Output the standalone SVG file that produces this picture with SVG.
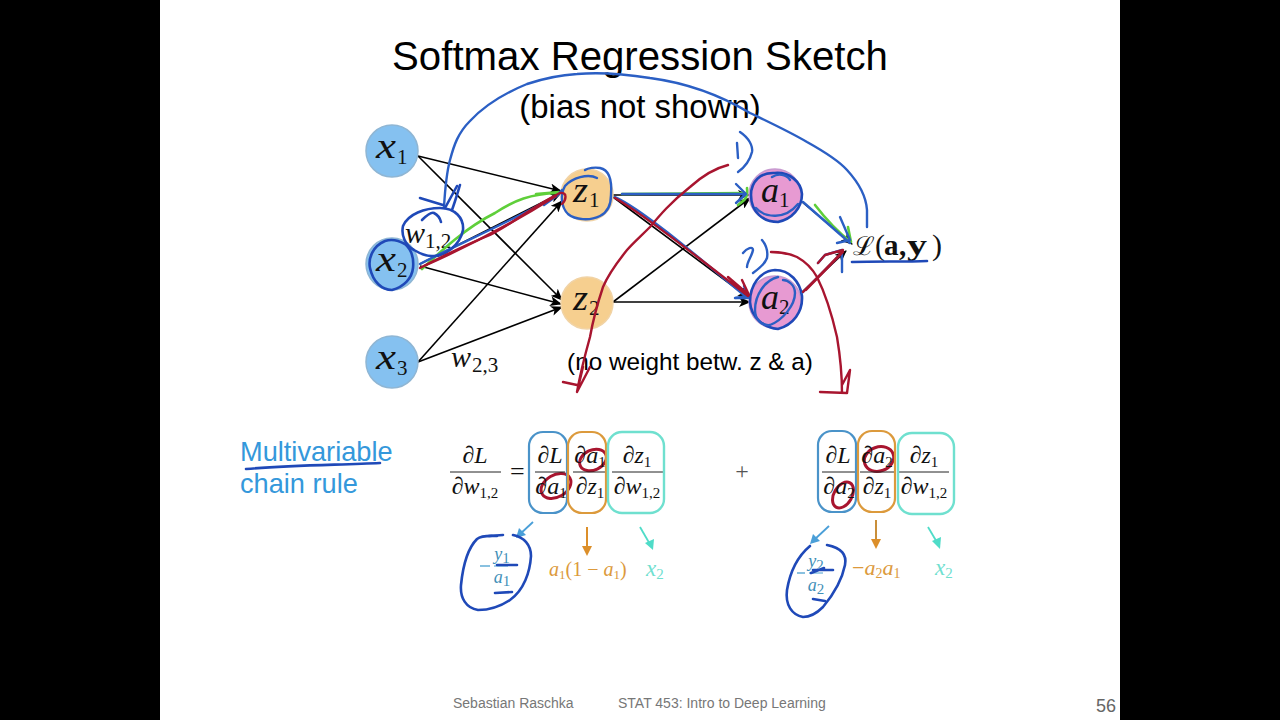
<svg xmlns="http://www.w3.org/2000/svg" width="1280" height="720" viewBox="0 0 1280 720">
<style>
.s{font-family:"Liberation Sans",Arial,sans-serif;fill:#000}
.m{font-family:"Liberation Serif","Times New Roman",serif;fill:#111}
.i{font-style:italic}
.b{font-weight:bold}
.n{font-size:36px;font-style:italic}
.sub{font-size:21px}
.f{font-size:24px;text-anchor:middle;font-style:italic}
.d{font-size:15px;font-style:normal}
.fl{stroke:#222;stroke-width:1;fill:none}
.w{stroke:#000;stroke-width:1.6;fill:none;marker-end:url(#ah)}
.blue{stroke:#2b5fc4;stroke-width:2.4;fill:none;stroke-linecap:round;stroke-linejoin:round}
.dblue{stroke:#1f49b8;stroke-width:2.6;fill:none;stroke-linecap:round;stroke-linejoin:round}
.red{stroke:#a8152f;stroke-width:2.4;fill:none;stroke-linecap:round;stroke-linejoin:round}
.rc{stroke:#a8152f;stroke-width:3;fill:none}
.green{stroke:#5fcf3a;stroke-width:2.6;fill:none;stroke-linecap:round;stroke-linejoin:round}
.cx{fill:#85c1f0;stroke:#8fb6d4;stroke-width:1.5}
.cz{fill:#f6cf8f;stroke:#f1d3a5;stroke-width:1.5}
.ca{fill:#e79ad2;stroke:#c79ad0;stroke-width:1.5}
.bb{fill:none;stroke:#4a93c9;stroke-width:2.2}
.bo{fill:none;stroke:#dc9a3c;stroke-width:2.2}
.bt{fill:none;stroke:#6fe0cf;stroke-width:2.4}
.ty{fill:#3f8fb8;font-size:18px;text-anchor:middle;font-style:italic}
</style>
<defs>
<marker id="ah" markerWidth="12" markerHeight="10" refX="11" refY="5" orient="auto" markerUnits="userSpaceOnUse"><path d="M0 0L12 5L0 10L3 5Z" fill="#000"/></marker>
</defs>
<rect width="1280" height="720" fill="#000"/>
<rect x="160" width="960" height="720" fill="#fff"/>
<text class="s" x="640" y="70" font-size="40.2" text-anchor="middle">Softmax Regression Sketch</text>
<text class="s" x="640" y="118" font-size="32.9" text-anchor="middle">(bias not shown)</text>
<text class="s" x="690" y="370" font-size="24.3" text-anchor="middle">(no weight betw. z &amp; a)</text>

<g id="connectors">
<path class="w" d="M418 156L561 191"/>
<path class="w" d="M418 156L562 300"/>
<path class="w" d="M420 264L561 193"/>
<path class="w" d="M420 266L561 304"/>
<path class="w" d="M418 362L562 201"/>
<path class="w" d="M418 362L562 307"/>
<path class="w" d="M613 195L749 195"/>
<path class="w" d="M613 197L749 298"/>
<path class="w" d="M613 302L750 198"/>
<path class="w" d="M613 302L750 302"/>
<path class="w" d="M801 201L852 244"/>
<path class="w" d="M801 293L846 251"/>
</g>

<g id="x1"><circle class="cx" cx="392" cy="151" r="26"/><text class="m n" x="376" y="158" textLength="20" lengthAdjust="spacingAndGlyphs">x</text><text class="m sub" x="397" y="164">1</text></g>
<g id="x2"><circle class="cx" cx="392" cy="264" r="26"/><text class="m n" x="376" y="271" textLength="20" lengthAdjust="spacingAndGlyphs">x</text><text class="m sub" x="397" y="277">2</text></g>
<g id="x3"><circle class="cx" cx="392" cy="362" r="26"/><text class="m n" x="376" y="369" textLength="20" lengthAdjust="spacingAndGlyphs">x</text><text class="m sub" x="397" y="375">3</text></g>
<g id="z1"><circle class="cz" cx="587" cy="195" r="26"/><text class="m n" x="573" y="202" textLength="15" lengthAdjust="spacingAndGlyphs">z</text><text class="m sub" x="589" y="207">1</text></g>
<g id="z2"><circle class="cz" cx="587" cy="303" r="26"/><text class="m n" x="573" y="310" textLength="15" lengthAdjust="spacingAndGlyphs">z</text><text class="m sub" x="589" y="315">2</text></g>
<g id="a1"><circle class="ca" cx="775" cy="195" r="26"/><text class="m n" x="761" y="202" textLength="18" lengthAdjust="spacingAndGlyphs">a</text><text class="m sub" x="779" y="207">1</text></g>
<g id="a2"><circle class="ca" cx="775" cy="302" r="26"/><text class="m n" x="761" y="309" textLength="18" lengthAdjust="spacingAndGlyphs">a</text><text class="m sub" x="779" y="314">2</text></g>

<g id="loss"><text x="853" y="255" font-size="26" font-family="'DejaVu Serif',serif" fill="#111">ℒ</text><text class="m" x="875" y="255" font-size="30">(</text><text class="m b" x="884" y="255" font-size="29">a</text><text class="m b" x="899" y="255" font-size="29">,</text><text class="m b" x="907" y="255" font-size="29" textLength="20" lengthAdjust="spacingAndGlyphs">y</text><text class="m" x="932" y="255" font-size="30">)</text></g>
<g id="w12"><text class="m i" x="405" y="243" font-size="30">w</text><text class="m" x="425" y="248" font-size="21">1,2</text></g>
<g id="w23"><text class="m i" x="451" y="367" font-size="30">w</text><text class="m" x="472" y="372" font-size="21">2,3</text></g>

<g id="annotations-green">
<path class="green" d="M422 269C440 252 465 228 495 213C515 200 530 194 558 193"/>
<path class="green" d="M536 194L559 192"/>
<path class="green" d="M622 194L745 193"/>
<path class="green" d="M738 205C745 200 748 198 747 188"/>
<path class="green" d="M815 205C825 218 835 230 851 242L848 227"/>
</g>
<g id="annotations-blue">
<path class="blue" d="M444 207C445 190 446 175 450 160C454 145 458 133 470 121C482 108 500 95 527 84C545 78 560 75 577 74C600 72 625 74 650 78C680 82 715 92 750 113C775 125 790 132 807 142C825 152 838 160 847 170C858 182 866 195 867 210L867 227"/>
<path class="blue" d="M420 264C450 248 510 222 556 196M544 205L558 195L562 190"/>
<path class="dblue" d="M420 198L443 205M460 185C457 195 455 202 452 210M457 186L445 208M422 220C428 214 432 212 434 213C438 215 440 218 441 222"/>
<path class="dblue" d="M414 250C405 245 401 235 403 226C408 214 425 208 440 208C455 208 464 218 463 230C460 245 445 257 432 256C425 256 419 253 414 250"/>
<path class="dblue" d="M385 241C373 246 368 258 370 268C373 282 382 290 392 290C404 287 412 278 413 268C414 258 412 250 405 244C398 240 391 239 385 241Z"/>
<path class="blue" d="M597 178C588 173 572 178 565 186C560 195 561 207 568 214C575 220 590 221 600 216C608 212 611 205 611 195C612 182 610 170 600 168C595 167 588 168 585 170"/>
<path class="blue" d="M615 197C640 208 690 250 745 296"/>
<path class="blue" d="M622 194L745 194M736 184L746 194L736 203"/>
<path class="blue" d="M735 298L748 296L744 286"/>
<path class="dblue" d="M775 173C760 172 751 182 751 195C751 212 763 222 778 222C792 219 802 208 802 194C801 182 790 172 775 173Z"/>
<path class="blue" d="M772 177C780 172 788 176 790 180M756 208C765 218 785 220 798 204"/>
<path class="dblue" d="M775 270C760 271 750 285 750 302C751 318 765 328 778 329C793 325 803 312 802 296C800 282 790 270 775 270Z"/>
<path class="blue" d="M778 277C765 280 755 295 755 310C755 320 762 326 770 325C783 320 795 305 795 293C795 285 788 280 783 280"/>
<path class="blue" d="M736 298L748 298"/>
<path class="blue" d="M803 202L850 243M840 217L850 240L837 243"/>
<path class="blue" d="M802 293L842 253M818 263L825 255L842 250L842 272"/>
<path class="blue" d="M740 132C749 138 753 146 752 152C750 160 745 167 738 172M737 143L738 158"/>
<path class="blue" d="M743 253C747 248 753 246 753 250C752 256 747 262 747 267M762 240C767 246 768 252 767 258C765 264 760 268 753 273"/>
<path class="dblue" d="M852 262C875 261 905 262 927 261"/>
</g>
<g id="annotations-red">
<path class="red" d="M420 268C445 255 465 245 490 235C515 222 535 205 560 193C568 192 566 200 562 204"/>
<path class="red" d="M424 266C460 250 510 225 556 196"/>
<path class="red" d="M615 198C640 212 695 255 748 296M728 277L749 295L742 280"/>
<path class="red" d="M728 165C712 169 700 178 690 187C670 203 660 215 650 227C640 237 633 243 627 250C615 265 608 275 603 287C597 305 593 320 590 337C585 355 580 375 577 392M563 382L577 385M590 367L577 392L583 367"/>
<path class="red" d="M771 252C780 252 790 254 797 257C806 262 812 268 817 277C826 295 832 315 837 337C840 355 842 375 842 393M820 392L847 393L850 370L842 385"/>
<path class="red" d="M803 292C815 280 830 265 843 251M818 263L825 255L843 250"/>
<path class="red" d="M806 290L843 252"/>
<ellipse class="rc" cx="556" cy="486" rx="16" ry="11" transform="rotate(-30 556 486)"/>
<ellipse class="rc" cx="593" cy="460" rx="14" ry="10" transform="rotate(-25 593 460)"/>
<ellipse class="rc" cx="843" cy="495" rx="9" ry="14" transform="rotate(30 843 495)"/>
<ellipse class="rc" cx="879" cy="459" rx="15" ry="12" transform="rotate(-20 879 459)"/>
</g>

<g id="chain-rule-label">
<text class="s" x="240" y="461" font-size="27.2" style="fill:#3498db">Multivariable</text>
<text class="s" x="240" y="493" font-size="27.2" style="fill:#3498db">chain rule</text>
<path class="dblue" d="M246 469C290 465 340 465 380 463"/>
</g>

<g id="eq-left">
<text class="m f" x="475" y="463">∂L</text><path class="fl" d="M450 472H501"/><text class="m f" x="475" y="494">∂w<tspan class="d" dy="4">1,2</tspan></text>
<text class="m" x="510" y="480" font-size="26">=</text>
<text class="m f" x="550" y="463">∂L</text><path class="fl" d="M535 472H565"/><text class="m f" x="551" y="494">∂a<tspan class="d" dy="4">1</tspan></text>
<text class="m f" x="590" y="463">∂a<tspan class="d" dy="4">1</tspan></text><path class="fl" d="M573 472H606"/><text class="m f" x="590" y="494">∂z<tspan class="d" dy="4">1</tspan></text>
<text class="m f" x="637" y="463">∂z<tspan class="d" dy="4">1</tspan></text><path class="fl" d="M612 472H663"/><text class="m f" x="637" y="494">∂w<tspan class="d" dy="4">1,2</tspan></text>
<rect class="bb" x="529" y="432" width="38" height="81" rx="14"/>
<rect class="bo" x="568" y="432" width="38" height="81" rx="14"/>
<rect class="bt" x="608" y="432" width="56" height="81" rx="14"/>
<path d="M533 522L519 535" stroke="#4a9fd8" stroke-width="1.8" fill="none"/><path d="M516 538L519 528L526 535Z" fill="#4a9fd8"/>
<path d="M587 527V549" stroke="#dc8f2a" stroke-width="2" fill="none"/><path d="M587 556L582 546H592Z" fill="#dc8f2a"/>
<path d="M640 527L651 546" stroke="#4fdcc8" stroke-width="1.8" fill="none"/><path d="M653 550L645 543L654 539Z" fill="#4fdcc8"/>
<path d="M480 566H490" stroke="#4aa0d0" stroke-width="1.3"/>
<text class="m ty" x="502" y="560">y<tspan class="d" font-size="12" dy="3">1</tspan></text>
<path d="M494 566H508" stroke="#4aa0d0" stroke-width="1"/>
<text class="m ty" x="502" y="583">a<tspan class="d" font-size="12" dy="3">1</tspan></text>
<text class="m" x="549" y="576" font-size="20" style="fill:#dc9a3c"><tspan class="i">a</tspan><tspan font-size="13" dy="3">1</tspan><tspan dy="-3">(1 − </tspan><tspan class="i">a</tspan><tspan font-size="13" dy="3">1</tspan><tspan dy="-3">)</tspan></text>
<text class="m i" x="646" y="576" font-size="23" style="fill:#6fe0cf">x<tspan font-size="15" font-style="normal" dy="3">2</tspan></text>
<path class="dblue" d="M513 535C524 537 531 545 531 556C530 572 524 590 510 600C498 608 488 610 478 610C466 608 460 598 461 585C463 565 468 548 477 539C482 535 490 536 497 536"/>
<path class="dblue" d="M497 565L517 565M495 593L512 592M489 536L503 535"/>
</g>

<g id="plus"><text class="m" x="742" y="479" font-size="24" text-anchor="middle" style="fill:#555">+</text></g>

<g id="eq-right">
<text class="m f" x="838" y="463">∂L</text><path class="fl" d="M822 472H855"/><text class="m f" x="839" y="494">∂a<tspan class="d" dy="4">2</tspan></text>
<text class="m f" x="877" y="463">∂a<tspan class="d" dy="4">2</tspan></text><path class="fl" d="M860 472H894"/><text class="m f" x="877" y="494">∂z<tspan class="d" dy="4">1</tspan></text>
<text class="m f" x="924" y="463">∂z<tspan class="d" dy="4">1</tspan></text><path class="fl" d="M898 472H949"/><text class="m f" x="924" y="494">∂w<tspan class="d" dy="4">1,2</tspan></text>
<rect class="bb" x="818" y="431" width="38" height="81" rx="14"/>
<rect class="bo" x="858" y="431" width="37" height="81" rx="14"/>
<rect class="bt" x="898" y="433" width="56" height="81" rx="14"/>
<path d="M829 526L814 540" stroke="#4a9fd8" stroke-width="1.8" fill="none"/><path d="M810 544L813 534L820 541Z" fill="#4a9fd8"/>
<path d="M876 520V543" stroke="#c98f3a" stroke-width="2" fill="none"/><path d="M876 549L871 539H881Z" fill="#dc8f2a"/>
<path d="M928 527L938 544" stroke="#4fdcc8" stroke-width="1.8" fill="none"/><path d="M940 549L932 541L941 537Z" fill="#4fdcc8"/>
<path d="M797 573H805" stroke="#4aa0d0" stroke-width="1.3"/>
<text class="m ty" x="816" y="567">y<tspan class="d" font-size="12" dy="3">2</tspan></text>
<path d="M809 573H823" stroke="#4aa0d0" stroke-width="1"/>
<text class="m ty" x="816" y="591">a<tspan class="d" font-size="12" dy="3">2</tspan></text>
<text class="m" x="852" y="575" font-size="22" style="fill:#dc9a3c">−<tspan class="i">a</tspan><tspan font-size="14" dy="3">2</tspan><tspan class="i" dy="-3">a</tspan><tspan font-size="14" dy="3">1</tspan></text>
<text class="m i" x="935" y="575" font-size="23" style="fill:#6fe0cf">x<tspan font-size="15" font-style="normal" dy="3">2</tspan></text>
<path class="dblue" d="M810 546C798 556 790 572 787 590C785 605 792 615 803 617C812 617 818 612 823 607C833 595 842 580 845 565C847 555 842 548 827 545"/>
<path class="dblue" d="M813 570L833 570M811 573L824 568M813 599L825 601"/>
</g>

<text class="s" x="453" y="708" font-size="14" style="fill:#777">Sebastian Raschka</text>
<text class="s" x="618" y="708" font-size="14" style="fill:#777">STAT 453: Intro to Deep Learning</text>
<text class="s" x="1096" y="712" font-size="18" style="fill:#666">56</text>
</svg>
